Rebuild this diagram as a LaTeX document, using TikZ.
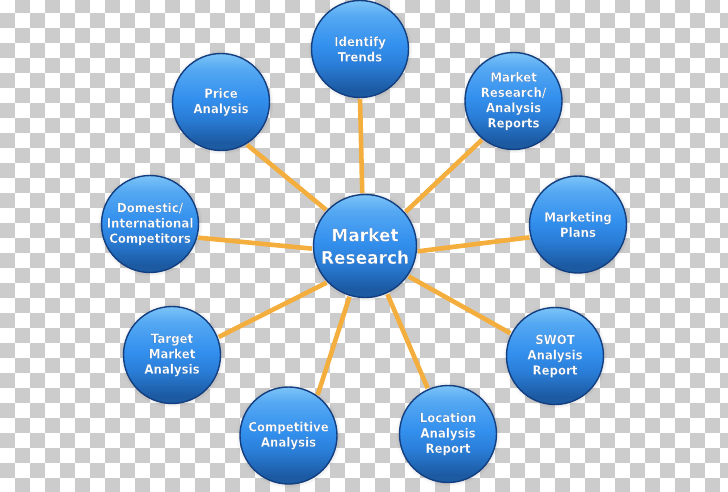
\documentclass[tikz,border=0pt]{standalone}
\usepackage{fontspec}
\setmainfont{DejaVu Sans}
\newfontfamily\smallfont[FakeStretch=0.92,FakeBold=0.5]{DejaVu Sans Bold}
\newfontfamily\bigfont[FakeStretch=0.97,FakeBold=0.5]{DejaVu Sans Bold}
\usetikzlibrary{shadows,fadings}
\definecolor{gridgray}{HTML}{CCCCCC}
\definecolor{linkorange}{HTML}{F3AE3D}
\definecolor{rimblue}{HTML}{133E80}
\definecolor{shA}{HTML}{1C5AA2}
\definecolor{shB}{HTML}{2A7ED8}
\definecolor{shC}{HTML}{3390EE}
\definecolor{shD}{HTML}{55A8F2}
\definecolor{shE}{HTML}{7CC4F8}
\pgfdeclareverticalshading{ballshade}{100bp}{
 color(0bp)=(shA);
 color(29bp)=(shA);
 color(42bp)=(shB);
 color(52bp)=(shC);
 color(67bp)=(shD);
 color(75bp)=(shE);
 color(100bp)=(shE)}
\newcommand{\outl}{\special{pdf:code 0.13 0.36 0.62 RG}}
\tikzset{
 ball/.style={circle,draw=rimblue,line width=1.4pt,shading=ballshade,
   circular drop shadow={shadow xshift=0pt,shadow yshift=0pt,shadow scale=1.08,opacity=.22,fill=black!70},
   text=white,align=center,inner sep=0pt},
 sat/.style={ball,minimum size=97pt,font=\smallfont\fontsize{12.8}{15.3}\selectfont},
 hub/.style={ball,minimum size=103pt,font=\bigfont\fontsize{17.5}{22.5}\selectfont},
 link/.style={draw=linkorange,line width=4.6pt,shorten >=1pt,shorten <=1pt}
}
\begin{document}
\begin{tikzpicture}[x=1pt,y=-1pt]
\useasboundingbox (0,0) rectangle (728,492);
\fill[white] (0,0) rectangle (728,492);
\foreach \i in {0,...,48}{
 \foreach \j in {0,...,33}{
  \pgfmathtruncatemacro{\p}{mod(\i+\j,2)}
  \ifnum\p=1
   \fill[gridgray] ({15*\i},{max(15*\j-2,0)}) rectangle ({min(15*\i+15,728)},{15*\j+13});
  \fi
 }
}
\node[hub] (hub) at (365,246) {\outl Market\\\outl Research};
\node[sat] (trends) at (360,49) {\outl Identify\\\outl Trends};
\node[sat] (reports) at (513.5,101) {\outl Market\\\outl Research/\\\outl Analysis\\\outl Reports};
\node[sat] (plans) at (578,224.5) {\outl Marketing\\\outl Plans};
\node[sat] (swot) at (555,356) {\outl SWOT\\\outl Analysis\\\outl Report};
\node[sat] (location) at (448,434) {\outl Location\\\outl Analysis\\\outl Report};
\node[sat] (competitive) at (288.5,435.5) {\outl Competitive\\\outl Analysis};
\node[sat] (target) at (172,355) {\outl Target\\\outl Market\\\outl Analysis};
\node[sat] (domestic) at (150,224) {\outl Domestic/\\\outl International\\\outl Competitors};
\node[sat] (price) at (221,102) {\outl Price\\\outl Analysis};
\foreach \n/\a/\b in {trends/93/270,reports/40/231,plans/-6.5/195,swot/-35/153,location/-65/114.5,competitive/253/54,target/224/21,domestic/183.5/-16,price/137/-59}
 \draw[link] (hub.\a) -- (\n.\b);
\end{tikzpicture}
\end{document}
